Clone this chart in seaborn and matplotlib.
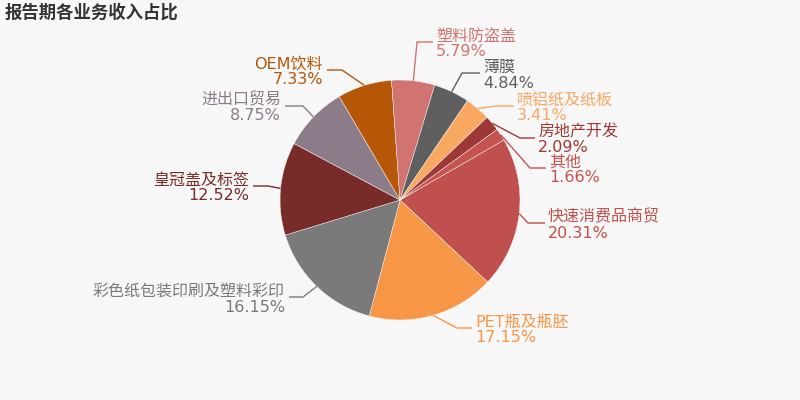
import numpy as np
import matplotlib
matplotlib.use("Agg")
import matplotlib.pyplot as plt
import seaborn as sns

# 报告期各业务收入占比
categories = ["快速消费品商贸", "PET瓶及瓶胚", "彩色纸包装印刷及塑料彩印", "皇冠盖及标签",
              "进出口贸易", "OEM饮料", "塑料防盗盖", "薄膜", "喷铝纸及纸板", "房地产开发", "其他"]
shares = [20.31, 17.15, 16.15, 12.52, 8.75, 7.33, 5.79, 4.84, 3.41, 2.09, 1.66]
pct_labels = ["20.31%", "17.15%", "16.15%", "12.52%", "8.75%", "7.33%",
              "5.79%", "4.84%", "3.41%", "2.09%", "1.66%"]
colors = ["#c0504d", "#f79646", "#7a7a7a", "#772c2a", "#8c7b89", "#b65708",
          "#d17370", "#5f5f5f", "#f9a862", "#9e3836", "#c55450"]

# label layout in pixels (elbow x, elbow y, end of leader line x)
elbows = [(528, 223, 545), (457, 328, 472), (303, 297, 289), (268, 186, 253),
          (303, 106, 285), (342, 70, 327), (417, 42, 433), (462, 73, 480),
          (496, 106, 514), (520, 138, 535), (530, 168, 546)]

sns.set_theme(style="white")
bg = "#f7f7f7"
plt.rcParams["font.family"] = ["DejaVu Sans", "Noto Sans CJK SC"]

fig = plt.figure(figsize=(8, 4), dpi=100, facecolor=bg)
ax = fig.add_axes([0, 0, 1, 1])
ax.set_facecolor(bg)

cx, cy, r = 400, 200, 120
wedges, _ = ax.pie(shares, colors=colors, startangle=30, counterclock=False,
                   center=(cx, cy), radius=r,
                   wedgeprops=dict(edgecolor="white", linewidth=0.3))
ax.set_xlim(0, 800)
ax.set_ylim(0, 400)
ax.set_aspect("equal")
ax.axis("off")

for w, name, pct, col, (ex, ey, endx) in zip(wedges, categories, pct_labels, colors, elbows):
    mid = np.deg2rad((w.theta1 + w.theta2) / 2)
    sx, sy = cx + r * np.cos(mid), cy + r * np.sin(mid)
    ey = 400 - ey
    ax.plot([sx, ex, endx], [sy, ey, ey], color=col, lw=1, solid_capstyle="butt")
    right = endx > ex
    tx = endx + 3 if right else endx - 4
    ha = "left" if right else "right"
    ax.text(tx, ey + 6, name, color=col, fontsize=11.5, ha=ha, va="center")
    ax.text(tx, ey - 10, pct, color=col, fontsize=11.5, ha=ha, va="center")

fig.text(5 / 800, 1 - 13 / 400, "报告期各业务收入占比", fontsize=12.5, fontweight="bold",
         color="#333333", ha="left", va="center",
         family=["Noto Sans CJK SC", "DejaVu Sans"])

fig.savefig("out.png", dpi=100, facecolor=bg)
